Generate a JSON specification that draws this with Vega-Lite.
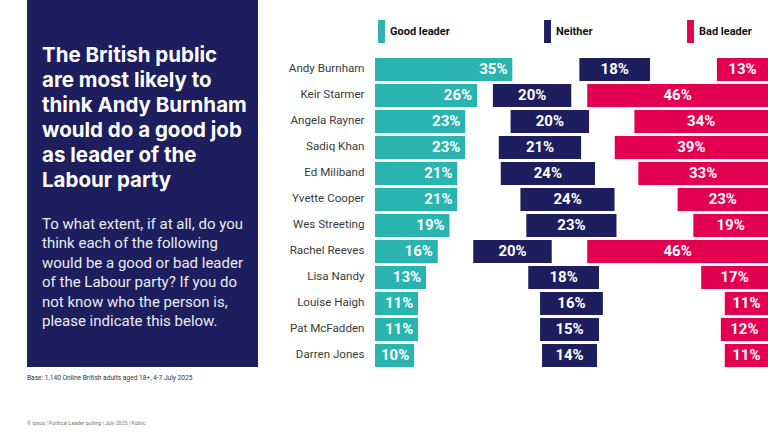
{
  "$schema": "https://vega.github.io/schema/vega-lite/v6.json",
  "background": "#ffffff",
  "padding": {"left": 27, "top": 0, "right": 0, "bottom": 0},
  "config": {"view": {"stroke": null}},
  "title": {
    "text": "Base: 1,140 Online British adults aged 18+,  4-7 July 2025",
    "subtitle": "© Ipsos | Political Leader polling | July 2025 | Public",
    "orient": "bottom",
    "anchor": "start",
    "frame": "bounds",
    "offset": 8,
    "font": "Roboto",
    "fontSize": 6.6,
    "fontWeight": "normal",
    "color": "#333333",
    "subtitleFont": "Roboto",
    "subtitleFontSize": 5.2,
    "subtitleColor": "#777777",
    "subtitlePadding": 39
  },
  "hconcat": [
    {
      "width": 231,
      "height": 367,
      "view": {"fill": "#1c1e5e", "stroke": null},
      "data": {"values": []},
      "mark": "rect",
      "title": {
        "text": ["The British public", "are most likely to", "think Andy Burnham", "would do a good job", "as leader of the", "Labour party"],
        "subtitle": ["To what extent, if at all, do you", "think each of the following", "would be a good or bad leader", "of the Labour party? If you do", "not know who the person is,", "please indicate this below."],
        "orient": "top",
        "anchor": "start",
        "frame": "group",
        "offset": -329,
        "dx": 15,
        "font": "Inter",
        "fontSize": 20.5,
        "fontWeight": "bold",
        "lineHeight": 25,
        "color": "#ffffff",
        "subtitleFont": "Roboto",
        "subtitleFontSize": 15,
        "subtitleLineHeight": 19.4,
        "subtitleColor": "#ebebf2",
        "subtitlePadding": 26
      }
    },
    {
      "width": 393,
      "height": 367,
      "data": {
        "values": [
          {"name": "Andy Burnham", "cat": "Good leader", "seg": 1, "v": 35},
          {"name": "Andy Burnham", "cat": "gap", "seg": 2, "v": 17},
          {"name": "Andy Burnham", "cat": "Neither", "seg": 3, "v": 18},
          {"name": "Andy Burnham", "cat": "gap", "seg": 4, "v": 17},
          {"name": "Andy Burnham", "cat": "Bad leader", "seg": 5, "v": 13},
          {"name": "Keir Starmer", "cat": "Good leader", "seg": 1, "v": 26},
          {"name": "Keir Starmer", "cat": "gap", "seg": 2, "v": 4},
          {"name": "Keir Starmer", "cat": "Neither", "seg": 3, "v": 20},
          {"name": "Keir Starmer", "cat": "gap", "seg": 4, "v": 4},
          {"name": "Keir Starmer", "cat": "Bad leader", "seg": 5, "v": 46},
          {"name": "Angela Rayner", "cat": "Good leader", "seg": 1, "v": 23},
          {"name": "Angela Rayner", "cat": "gap", "seg": 2, "v": 11.5},
          {"name": "Angela Rayner", "cat": "Neither", "seg": 3, "v": 20},
          {"name": "Angela Rayner", "cat": "gap", "seg": 4, "v": 11.5},
          {"name": "Angela Rayner", "cat": "Bad leader", "seg": 5, "v": 34},
          {"name": "Sadiq Khan", "cat": "Good leader", "seg": 1, "v": 23},
          {"name": "Sadiq Khan", "cat": "gap", "seg": 2, "v": 8.5},
          {"name": "Sadiq Khan", "cat": "Neither", "seg": 3, "v": 21},
          {"name": "Sadiq Khan", "cat": "gap", "seg": 4, "v": 8.5},
          {"name": "Sadiq Khan", "cat": "Bad leader", "seg": 5, "v": 39},
          {"name": "Ed Miliband", "cat": "Good leader", "seg": 1, "v": 21},
          {"name": "Ed Miliband", "cat": "gap", "seg": 2, "v": 11},
          {"name": "Ed Miliband", "cat": "Neither", "seg": 3, "v": 24},
          {"name": "Ed Miliband", "cat": "gap", "seg": 4, "v": 11},
          {"name": "Ed Miliband", "cat": "Bad leader", "seg": 5, "v": 33},
          {"name": "Yvette Cooper", "cat": "Good leader", "seg": 1, "v": 21},
          {"name": "Yvette Cooper", "cat": "gap", "seg": 2, "v": 16},
          {"name": "Yvette Cooper", "cat": "Neither", "seg": 3, "v": 24},
          {"name": "Yvette Cooper", "cat": "gap", "seg": 4, "v": 16},
          {"name": "Yvette Cooper", "cat": "Bad leader", "seg": 5, "v": 23},
          {"name": "Wes Streeting", "cat": "Good leader", "seg": 1, "v": 19},
          {"name": "Wes Streeting", "cat": "gap", "seg": 2, "v": 19.5},
          {"name": "Wes Streeting", "cat": "Neither", "seg": 3, "v": 23},
          {"name": "Wes Streeting", "cat": "gap", "seg": 4, "v": 19.5},
          {"name": "Wes Streeting", "cat": "Bad leader", "seg": 5, "v": 19},
          {"name": "Rachel Reeves", "cat": "Good leader", "seg": 1, "v": 16},
          {"name": "Rachel Reeves", "cat": "gap", "seg": 2, "v": 9},
          {"name": "Rachel Reeves", "cat": "Neither", "seg": 3, "v": 20},
          {"name": "Rachel Reeves", "cat": "gap", "seg": 4, "v": 9},
          {"name": "Rachel Reeves", "cat": "Bad leader", "seg": 5, "v": 46},
          {"name": "Lisa Nandy", "cat": "Good leader", "seg": 1, "v": 13},
          {"name": "Lisa Nandy", "cat": "gap", "seg": 2, "v": 26},
          {"name": "Lisa Nandy", "cat": "Neither", "seg": 3, "v": 18},
          {"name": "Lisa Nandy", "cat": "gap", "seg": 4, "v": 26},
          {"name": "Lisa Nandy", "cat": "Bad leader", "seg": 5, "v": 17},
          {"name": "Louise Haigh", "cat": "Good leader", "seg": 1, "v": 11},
          {"name": "Louise Haigh", "cat": "gap", "seg": 2, "v": 31},
          {"name": "Louise Haigh", "cat": "Neither", "seg": 3, "v": 16},
          {"name": "Louise Haigh", "cat": "gap", "seg": 4, "v": 31},
          {"name": "Louise Haigh", "cat": "Bad leader", "seg": 5, "v": 11},
          {"name": "Pat McFadden", "cat": "Good leader", "seg": 1, "v": 11},
          {"name": "Pat McFadden", "cat": "gap", "seg": 2, "v": 31},
          {"name": "Pat McFadden", "cat": "Neither", "seg": 3, "v": 15},
          {"name": "Pat McFadden", "cat": "gap", "seg": 4, "v": 31},
          {"name": "Pat McFadden", "cat": "Bad leader", "seg": 5, "v": 12},
          {"name": "Darren Jones", "cat": "Good leader", "seg": 1, "v": 10},
          {"name": "Darren Jones", "cat": "gap", "seg": 2, "v": 32.5},
          {"name": "Darren Jones", "cat": "Neither", "seg": 3, "v": 14},
          {"name": "Darren Jones", "cat": "gap", "seg": 4, "v": 32.5},
          {"name": "Darren Jones", "cat": "Bad leader", "seg": 5, "v": 11}
        ]
      },
      "transform": [
        {"stack": "v", "groupby": ["name"], "sort": [{"field": "seg", "order": "ascending"}], "as": ["x0", "x1"]}
      ],
      "encoding": {
        "y": {
          "field": "name",
          "type": "nominal",
          "scale": {
            "domain": ["", "Andy Burnham", "Keir Starmer", "Angela Rayner", "Sadiq Khan", "Ed Miliband", "Yvette Cooper", "Wes Streeting", "Rachel Reeves", "Lisa Nandy", "Louise Haigh", "Pat McFadden", "Darren Jones"],
            "paddingInner": 0.115,
            "paddingOuter": 0.615,
            "align": 1,
            "round": false
          },
          "axis": {
            "title": null,
            "domain": false,
            "ticks": false,
            "labelPadding": 11,
            "labelFont": "Roboto",
            "labelFontSize": 11.6,
            "labelColor": "#3a3a3a"
          }
        }
      },
      "layer": [
        {
          "mark": {"type": "bar"},
          "encoding": {
            "x": {"field": "x0", "type": "quantitative", "scale": {"domain": [0, 100], "nice": false}, "axis": null},
            "x2": {"field": "x1"},
            "color": {
              "field": "cat",
              "type": "nominal",
              "scale": {"domain": ["Good leader", "gap", "Neither", "Bad leader"], "range": ["#2ab4af", "#ffffff", "#1c1e5e", "#e40050"]},
              "legend": {
                "values": ["Good leader", "Neither", "Bad leader"],
                "title": null,
                "orient": "none",
                "legendX": 343,
                "legendY": 20,
                "direction": "horizontal",
                "symbolType": "M-0.3,-1H0.3V1H-0.3Z",
                "symbolSize": 529,
                "symbolStrokeWidth": 0,
                "labelOffset": -3,
                "labelFont": "Roboto",
                "labelFontSize": 11,
                "labelFontWeight": "bold",
                "labelColor": "#111111",
                "columnPadding": 86,
                "padding": 0
              }
            }
          }
        },
        {
          "transform": [{"filter": "datum.cat === 'Good leader'"}],
          "mark": {"type": "text", "align": "right", "dx": -5, "baseline": "middle", "font": "Roboto", "fontSize": 15, "fontWeight": "bold", "color": "#ffffff", "text": {"expr": "datum.v + '%'"}},
          "encoding": {
            "x": {"field": "x1", "type": "quantitative"}
          }
        },
        {
          "transform": [
            {"filter": "datum.cat === 'Neither' || datum.cat === 'Bad leader'"},
            {"fold": ["x0", "x1"], "as": ["end", "pos"]},
            {"aggregate": [{"op": "mean", "field": "pos", "as": "mid"}, {"op": "max", "field": "v", "as": "v"}], "groupby": ["name", "cat"]}
          ],
          "mark": {"type": "text", "align": "center", "baseline": "middle", "font": "Roboto", "fontSize": 15, "fontWeight": "bold", "color": "#ffffff", "text": {"expr": "datum.v + '%'"}},
          "encoding": {
            "x": {"field": "mid", "type": "quantitative"}
          }
        }
      ]
    }
  ],
  "spacing": 117,
  "bounds": "flush"
}
